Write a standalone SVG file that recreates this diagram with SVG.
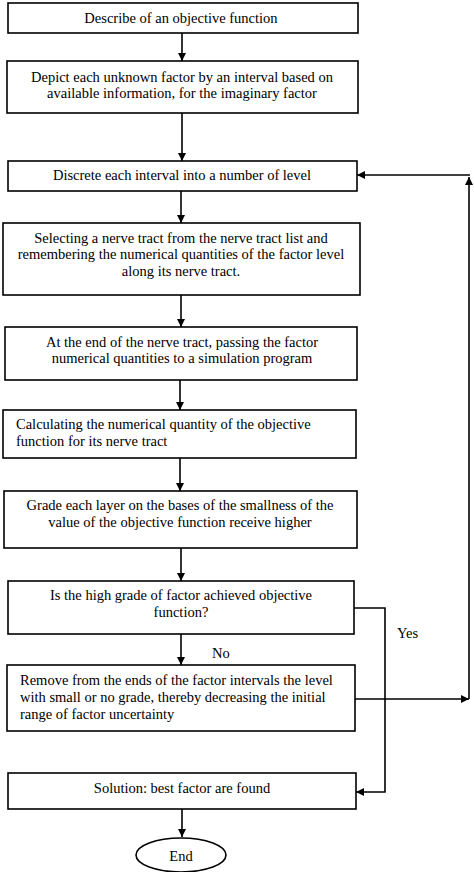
<svg xmlns="http://www.w3.org/2000/svg" width="474" height="872" viewBox="0 0 474 872">
<style>
.box{fill:#fff;stroke:#000;stroke-width:1.6}
.t{font-family:"Liberation Serif","Times New Roman",serif;font-size:14.5px;fill:#000}
.c{text-anchor:middle}
.ln{fill:none;stroke:#000;stroke-width:1.6}
</style>
<defs>
<marker id="ah" viewBox="0 0 10 10" refX="10" refY="5" markerWidth="9" markerHeight="8" markerUnits="userSpaceOnUse" orient="auto">
<path d="M0,0 L10,5 L0,10 z" fill="#000"/>
</marker>
</defs>
<rect width="474" height="872" fill="#fff"/>
<g id="connectors">
<line class="ln" x1="182" y1="33" x2="182" y2="61" marker-end="url(#ah)"/>
<line class="ln" x1="182" y1="113" x2="182" y2="161" marker-end="url(#ah)"/>
<line class="ln" x1="181" y1="191" x2="181" y2="223" marker-end="url(#ah)"/>
<line class="ln" x1="181" y1="295" x2="181" y2="327" marker-end="url(#ah)"/>
<line class="ln" x1="180" y1="380" x2="180" y2="410" marker-end="url(#ah)"/>
<line class="ln" x1="180" y1="458" x2="180" y2="491" marker-end="url(#ah)"/>
<line class="ln" x1="181" y1="548" x2="181" y2="581" marker-end="url(#ah)"/>
<line class="ln" x1="181" y1="634" x2="181" y2="665" marker-end="url(#ah)"/>
<line class="ln" x1="182" y1="809" x2="182" y2="837" marker-end="url(#ah)"/>
<polyline class="ln" points="354,608 385,608 385,792 356,792" marker-end="url(#ah)"/>
<line class="ln" x1="355" y1="699" x2="469" y2="699" marker-end="url(#ah)"/>
<line class="ln" x1="469" y1="699" x2="469" y2="177" marker-end="url(#ah)"/>
<line class="ln" x1="470" y1="175" x2="357" y2="175" marker-end="url(#ah)"/>
<text class="t" x="212" y="658">No</text>
<text class="t" x="397" y="638">Yes</text>
</g>
<g id="n1"><rect class="box" x="8" y="3" width="350" height="30"/><text class="t c" x="181" y="23">Describe of an objective function</text></g>
<g id="n2"><rect class="box" x="7" y="61" width="351" height="52"/><text class="t c" x="182" y="82">Depict each unknown factor by an interval based on</text><text class="t c" x="182" y="98">available information, for the imaginary factor</text></g>
<g id="n3"><rect class="box" x="8" y="161" width="349" height="30"/><text class="t c" x="182" y="180">Discrete each interval into a number of level</text></g>
<g id="n4"><rect class="box" x="3" y="223" width="357" height="72"/><text class="t c" x="181" y="243">Selecting a nerve tract from the nerve tract list and</text><text class="t c" x="181" y="259">remembering the numerical quantities of the factor level</text><text class="t c" x="181" y="276">along its nerve tract.</text></g>
<g id="n5"><rect class="box" x="5" y="327" width="352" height="53"/><text class="t c" x="182" y="347">At the end of the nerve tract, passing the factor</text><text class="t c" x="182" y="363">numerical quantities to a simulation program</text></g>
<g id="n6"><rect class="box" x="3" y="410" width="353" height="48"/><text class="t" x="16" y="429">Calculating the numerical quantity of the objective</text><text class="t" x="16" y="446">function for its nerve tract</text></g>
<g id="n7"><rect class="box" x="4" y="491" width="353" height="57"/><text class="t c" x="180" y="510">Grade each layer on the bases of the smallness of the</text><text class="t c" x="180" y="527">value of the objective  function receive higher</text></g>
<g id="n8"><rect class="box" x="8" y="581" width="346" height="53"/><text class="t c" x="181" y="600">Is the high grade of factor achieved objective</text><text class="t c" x="181" y="617">function?</text></g>
<g id="n9"><rect class="box" x="7" y="665" width="348" height="66"/><text class="t" x="20" y="685">Remove from the ends of the factor intervals the level</text><text class="t" x="20" y="702">with small or no grade, thereby decreasing the initial</text><text class="t" x="20" y="719">range of factor uncertainty</text></g>
<g id="n10"><rect class="box" x="8" y="773" width="348" height="36"/><text class="t c" x="182" y="793">Solution: best factor are found</text></g>
<g id="end"><ellipse class="box" cx="181" cy="855" rx="45" ry="17"/><text class="t c" x="181" y="861">End</text></g>
</svg>
